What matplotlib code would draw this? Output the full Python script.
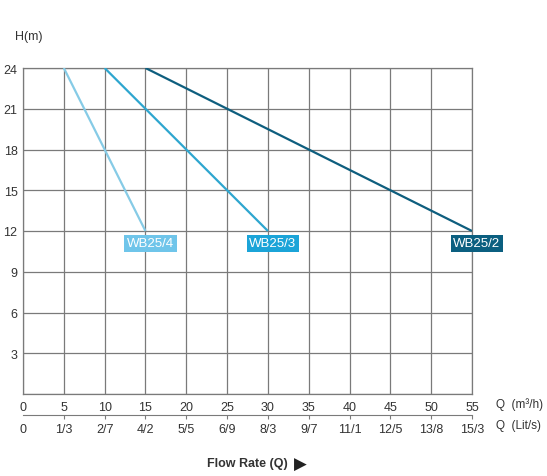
import matplotlib
matplotlib.use("Agg")
import matplotlib.pyplot as plt

plt.rcParams['font.family'] = ['Liberation Sans', 'DejaVu Sans']

models = ["WB25/4", "WB25/3", "WB25/2"]
flow_m3h = [[5, 15], [10, 30], [15, 55]]
head_m = [[24, 12], [24, 12], [24, 12]]
line_colors = ["#86cbe6", "#2ea6cf", "#0e5e7e"]
box_colors = ["#6fc5ea", "#1ba4d8", "#0b5f80"]

x_ticks = [0, 5, 10, 15, 20, 25, 30, 35, 40, 45, 50, 55]
lit_labels = ["0", "1/3", "2/7", "4/2", "5/5", "6/9", "8/3", "9/7", "11/1", "12/5", "13/8", "15/3"]
y_ticks = [3, 6, 9, 12, 15, 18, 21, 24]

fig = plt.figure(figsize=(5.47, 4.77), dpi=100)
ax = fig.add_axes([23/547, 1-395/477, (472-23)/547, (395-69)/477])

ax.set_xlim(0, 55)
ax.set_ylim(0, 24)
ax.set_xticks(x_ticks)
ax.set_yticks([0] + y_ticks)
ax.set_yticklabels([""] + [str(v) for v in y_ticks])
ax.grid(True, color="#7a7a7a", lw=0.9)
ax.set_axisbelow(True)
for s in ax.spines.values():
    s.set_color("#7a7a7a")
    s.set_linewidth(0.9)
ax.tick_params(axis="both", length=0, labelsize=9, colors="#333333")
ax.tick_params(axis="x", pad=5)
ax.tick_params(axis="y", pad=4)

for i, m in enumerate(models):
    ax.plot(flow_m3h[i], head_m[i], color=line_colors[i], lw=1.6, solid_capstyle="butt", zorder=3)
    ax.text(flow_m3h[i][1] + 0.6, 11.1, m, ha="center", va="center", fontsize=9.5, color="white",
            bbox=dict(boxstyle="square,pad=0.2", fc=box_colors[i], ec="none"), zorder=4)

sec = ax.secondary_xaxis("bottom")
sec.spines["bottom"].set_position(("outward", 15))
sec.spines["bottom"].set_color("#7a7a7a")
sec.set_xticks(x_ticks)
sec.set_xticklabels(lit_labels)
sec.tick_params(axis="x", length=3, width=0.8, colors="#7a7a7a", labelcolor="#333333", labelsize=9, pad=3)
sec.xaxis.get_major_ticks()[0].tick1line.set_visible(False)

fig.text(15/547, 1-37/477, "H(m)", fontsize=9, color="#333333", va="center", ha="left")
fig.text(496/547, 1-405/477, "Q  (m\u00b3/h)", fontsize=8.5, color="#333333", va="center", ha="left")
fig.text(496/547, 1-426/477, "Q  (Lit/s)", fontsize=8.5, color="#333333", va="center", ha="left")
fig.text(247/547, 1-464/477, "Flow Rate (Q)", fontsize=9, fontweight="bold", color="#333333", va="center", ha="center")
fig.text(300/547, 1-465/477, "\u25B6", fontsize=12, color="#222222", va="center", ha="center", family=["DejaVu Sans"])

fig.savefig("out.png", dpi=100)
